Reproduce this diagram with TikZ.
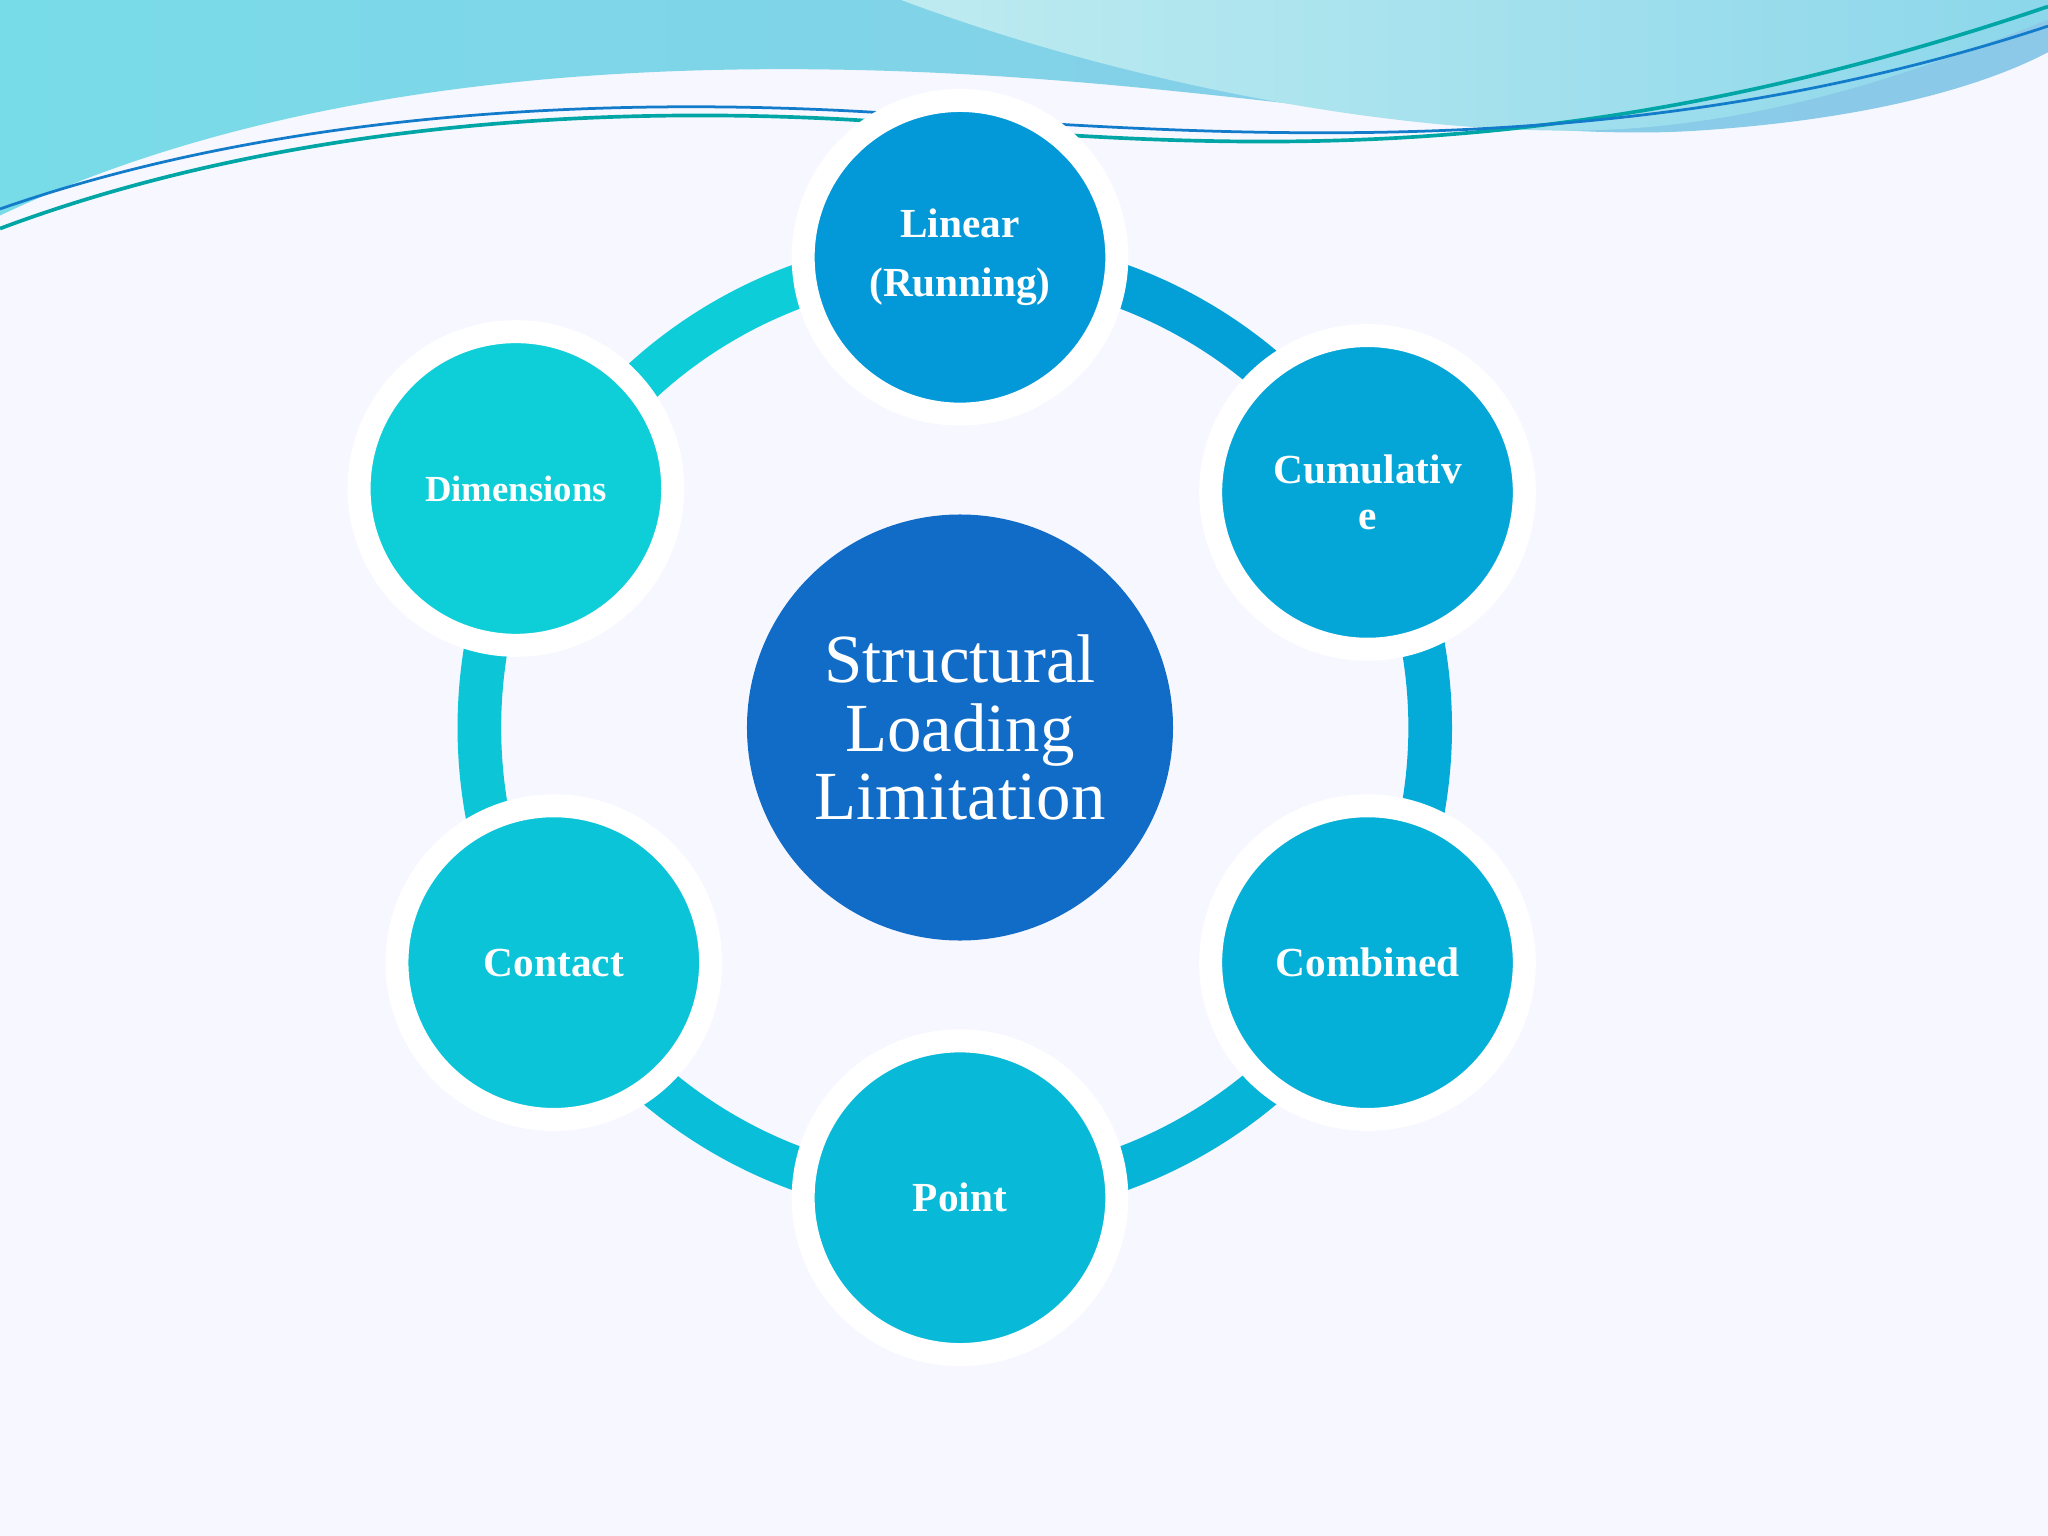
\documentclass[tikz,border=0pt]{standalone}
\usepackage{fontspec}
\setmainfont{Liberation Serif}
\begin{document}
\begin{tikzpicture}[x=0.01cm,y=-0.01cm,
  sat/.style={circle,minimum size=2.40cm,draw=white,line width=5pt,text=white,font=\bfseries\fontsize{9}{13}\selectfont,align=center,inner sep=0pt},
  ring/.style={line width=9.5pt}]
\useasboundingbox (0,0) rectangle (1568,1176);
\fill[white!97!blue] (0,0) rectangle (1568,1176);
% top waves
\shade[left color={rgb,255:red,120;green,220;blue,232},right color={rgb,255:red,140;green,200;blue,232}] (0,0) -- (0,165) .. controls (200,70) and (450,45) .. (700,55) .. controls (950,65) and (1150,110) .. (1300,100) .. controls (1450,90) and (1530,60) .. (1568,40) -- (1568,0) -- cycle;
\shade[left color={rgb,255:red,190;green,235;blue,240},right color={rgb,255:red,140;green,215;blue,235}] (690,0) .. controls (850,60) and (1050,100) .. (1200,100) .. controls (1350,100) and (1480,50) .. (1568,15) -- (1568,0) -- cycle;
\draw[teal!70!cyan,line width=0.8pt] (0,175) .. controls (200,100) and (450,75) .. (700,95) .. controls (950,115) and (1200,130) .. (1568,5);
\draw[cyan!60!blue,line width=0.6pt] (0,160) .. controls (200,90) and (450,70) .. (700,88) .. controls (950,105) and (1250,125) .. (1568,20);
% ring arcs
\coordinate (c) at (735,557);
\draw[ring,color={rgb,255:red,3;green,160;blue,216}] ([shift={(-90:360)}]c) arc[start angle=-90,end angle=-30,radius=360];
\draw[ring,color={rgb,255:red,4;green,170;blue,216}] ([shift={(-30:360)}]c) arc[start angle=-30,end angle=30,radius=360];
\draw[ring,color={rgb,255:red,6;green,180;blue,216}] ([shift={(30:360)}]c) arc[start angle=30,end angle=90,radius=360];
\draw[ring,color={rgb,255:red,9;green,190;blue,216}] ([shift={(90:360)}]c) arc[start angle=90,end angle=150,radius=360];
\draw[ring,color={rgb,255:red,12;green,198;blue,216}] ([shift={(150:368)}]c) arc[start angle=150,end angle=210,radius=368];
\draw[ring,color={rgb,255:red,13;green,206;blue,216}] ([shift={(210:360)}]c) arc[start angle=210,end angle=270,radius=360];
% nodes
\node[circle,minimum size=3.26cm,inner sep=0pt,fill={rgb,255:red,17;green,108;blue,200},text=white,align=center,font=\fontsize{15}{15}\selectfont] (center) at (c) {Structural\\Loading\\Limitation};
\node[sat,fill={rgb,255:red,3;green,153;blue,216}] (lin) at (735,197) {Linear\\(Running)};
\node[sat,fill={rgb,255:red,4;green,166;blue,216}] (cum) at (1047,377) {Cumulativ\\[-3pt]e};
\node[sat,fill={rgb,255:red,5;green,176;blue,216}] (com) at (1047,737) {Combined};
\node[sat,fill={rgb,255:red,8;green,186;blue,216}] (pt) at (735,917) {Point};
\node[sat,fill={rgb,255:red,11;green,196;blue,216}] (con) at (424,737) {Contact};
\node[sat,fill={rgb,255:red,14;green,206;blue,216},font=\bfseries\fontsize{8}{10}\selectfont] (dim) at (395,374) {Dimensions};
\end{tikzpicture}
\end{document}
